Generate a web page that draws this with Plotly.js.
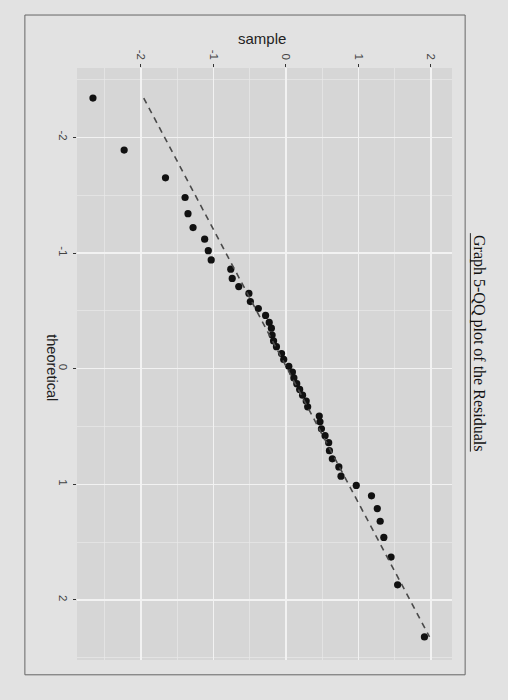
<!DOCTYPE html>
<html>
<head>
<meta charset="utf-8">
<script src="https://cdn.plot.ly/plotly-3.0.1.min.js"></script>
<style>html,body{margin:0;padding:0;background:#e2e2e2;}#chart{width:508px;height:700px;}</style>
</head>
<body>
<div id="chart"></div>
<script>
// QQ plot data read from the (rotated) photo
const theoretical = [-2.34,-1.89,-1.65,-1.48,-1.34,-1.22,-1.12,-1.02,-0.94,-0.86,-0.78,-0.71,-0.65,-0.58,-0.52,-0.46,-0.40,-0.35,-0.29,-0.24,-0.19,-0.13,-0.08,-0.02,0.03,0.08,0.13,0.18,0.23,0.28,0.33,0.41,0.46,0.52,0.58,0.64,0.71,0.78,0.85,0.93,1.01,1.10,1.21,1.32,1.46,1.63,1.87,2.32];
const sample = [-2.66,-2.23,-1.66,-1.39,-1.35,-1.28,-1.12,-1.07,-1.03,-0.76,-0.74,-0.65,-0.51,-0.49,-0.38,-0.28,-0.23,-0.20,-0.19,-0.17,-0.13,-0.06,-0.03,0.04,0.09,0.11,0.15,0.19,0.23,0.28,0.30,0.46,0.47,0.49,0.54,0.59,0.60,0.64,0.73,0.76,0.97,1.18,1.26,1.30,1.35,1.45,1.54,1.91];
const lineTheo = [-2.34, 2.32];
const lineSample = [-1.96, 1.98];
const tickVals = [-2,-1,0,1,2];
const tickText = ['-2','-1','0','1','2'];
const titleText = 'Graph 5-QQ plot of the Residuals';
const xTitle = 'sample';
const yTitle = 'theoretical';

const traces = [
  {x: sample, y: theoretical, type: 'scatter', mode: 'markers',
   marker: {color: '#111', size: 7.2}, hoverinfo: 'skip'},
  {x: lineSample, y: lineTheo, type: 'scatter', mode: 'lines',
   line: {color: '#4a4a4a', width: 1.6, dash: '6px,5px'}, hoverinfo: 'skip'}
];

const axisCommon = {
  tickvals: tickVals, ticktext: tickText, tickangle: 90,
  ticks: 'outside', ticklen: 3, tickcolor: '#333', tickwidth: 1,
  tickfont: {family: 'Liberation Sans, Arial, sans-serif', size: 11.5, color: '#444'},
  showgrid: true, gridcolor: '#f2f2f2', gridwidth: 1.4,
  minor: {dtick: 0.5, tick0: 0, showgrid: true, gridcolor: '#e8e8e8', gridwidth: 0.7},
  zeroline: false, showline: false
};

const layout = {
  width: 508, height: 700,
  margin: {l: 77, r: 56, t: 68, b: 40},
  paper_bgcolor: '#e2e2e2', plot_bgcolor: '#d6d6d6',
  showlegend: false,
  xaxis: Object.assign({}, axisCommon, {side: 'top', range: [-2.88, 2.29]}),
  yaxis: Object.assign({}, axisCommon, {range: [2.52, -2.60]}),
  shapes: [
    {type: 'rect', xref: 'paper', yref: 'paper', x0: -0.139, x1: 1.035, y0: -0.025, y1: 1.0895,
     line: {color: '#666', width: 1}, fillcolor: 'rgba(0,0,0,0)', layer: 'below'},
    {type: 'line', xref: 'paper', yref: 'paper', x0: 1.049, x1: 1.049, y0: 0.352, y1: 0.721,
     line: {color: '#222', width: 1}}
  ],
  annotations: [
    {text: xTitle, xref: 'paper', yref: 'paper', x: 0.493, y: 1.049, xanchor: 'center', yanchor: 'middle', showarrow: false,
     font: {family: 'Liberation Sans, Arial, sans-serif', size: 15, color: '#222'}},
    {text: yTitle, xref: 'paper', yref: 'paper', x: -0.067, y: 0.493, xanchor: 'center', yanchor: 'middle', showarrow: false, textangle: 90,
     font: {family: 'Liberation Sans, Arial, sans-serif', size: 14.5, color: '#222'}},
    {text: titleText, xref: 'paper', yref: 'paper', x: 1.07, y: 0.535, xanchor: 'center', yanchor: 'middle', showarrow: false, textangle: 90,
     font: {family: 'Liberation Serif, Times New Roman, serif', size: 16, color: '#111'}}
  ]
};

Plotly.newPlot('chart', traces, layout, {displayModeBar: false, staticPlot: true});
</script>
</body>
</html>
